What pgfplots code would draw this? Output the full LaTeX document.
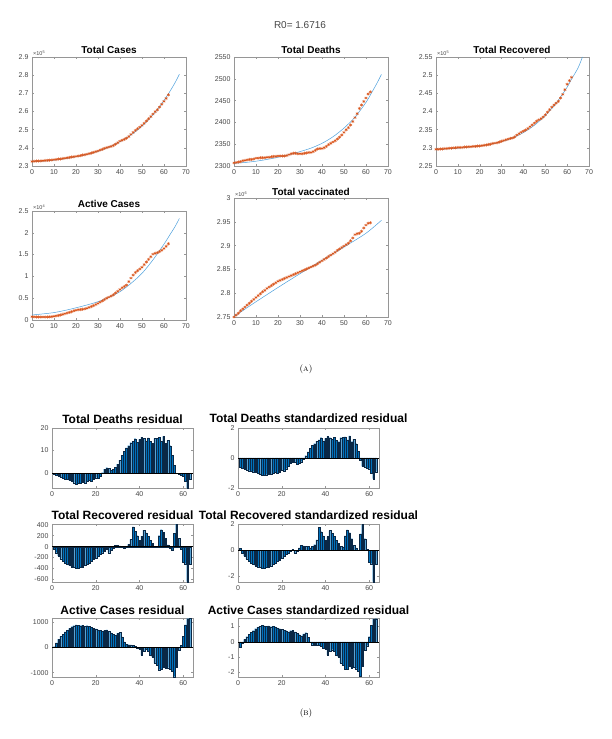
\documentclass[border=0pt]{standalone}
\usepackage{fontspec}
\newfontfamily\arial{Liberation Sans}
\usepackage{pgfplots}
\pgfplotsset{compat=1.18}
\definecolor{mblue}{RGB}{0,114,189}
\definecolor{mnavy}{RGB}{10,40,70}
\definecolor{morange}{RGB}{217,83,25}
\definecolor{mline}{RGB}{77,160,220}
\definecolor{axgray}{RGB}{150,150,150}
\definecolor{tkgray}{RGB}{70,70,70}
\pgfplotsset{
  base/.style={scale only axis, anchor=south west, clip=false,
    axis line style={axgray, line width=0.4pt},
    tick style={axgray, line width=0.4pt},
    major tick length=2pt, tick align=inside,
    ticklabel style={font=\arial\fontsize{7}{8}\selectfont, text=tkgray},
    /pgf/number format/assume math mode=true,
    /pgf/number format/1000 sep={},
    /pgf/number format/fixed,
    scaled ticks=false},
  top/.style={base, width=154pt, height=109pt, xmin=0, xmax=70, xtick={0,10,20,30,40,50,60,70}},
  res/.style={base, width=141pt, xmin=0, xmax=64.5, xtick={0,20,40,60}},
  fitline/.style={mline, line width=0.5pt, no marks, smooth},
  dat/.style={morange, only marks, mark=asterisk, mark size=1.6pt, line width=0.45pt},
  bars/.style={ybar, bar width=0.8, fill=mblue, draw=mnavy, line width=0.1pt},
}
\newcommand{\tfont}{\arial\bfseries\fontsize{10}{12}\selectfont}
\newcommand{\bfont}{\arial\bfseries\fontsize{12}{14}\selectfont}
\newcommand{\expo}[1]{\node[anchor=south west, inner sep=1pt, font=\arial\fontsize{5.5}{6}\selectfont, text=tkgray] at (rel axis cs:0,1) {×10\textsuperscript{#1}};}
\begin{document}
\begin{tikzpicture}
\path[use as bounding box] (0,0) rectangle (612pt,739pt);
\node[font=\arial\fontsize{10}{12}\selectfont, text=tkgray] at (300pt,714pt) {R0= 1.6716};
% ---------- Total Cases
\begin{axis}[top, at={(32pt,573pt)}, ymin=2.3, ymax=2.9, ytick={2.3,2.4,2.5,2.6,2.7,2.8,2.9}]
\addplot[dat] coordinates {(0,2.325)(1,2.326)(2,2.327)(3,2.327)(4,2.328)(5,2.329)(6,2.330)(7,2.331)(8,2.332)(9,2.333)(10,2.335)(11,2.336)(12,2.338)(13,2.339)(14,2.341)(15,2.343)(16,2.345)(17,2.347)(18,2.349)(19,2.351)(20,2.353)(21,2.355)(22,2.357)(23,2.360)(24,2.362)(25,2.365)(26,2.368)(27,2.371)(28,2.375)(29,2.379)(30,2.383)(31,2.388)(32,2.392)(33,2.397)(34,2.401)(35,2.405)(36,2.408)(37,2.413)(38,2.420)(39,2.428)(40,2.437)(41,2.442)(42,2.447)(43,2.453)(44,2.462)(45,2.474)(46,2.485)(47,2.496)(48,2.505)(49,2.514)(50,2.524)(51,2.535)(52,2.548)(53,2.560)(54,2.572)(55,2.586)(56,2.599)(57,2.610)(58,2.624)(59,2.640)(60,2.656)(61,2.672)(62,2.692)};
\addplot[fitline] coordinates {(0,2.324)(2.5,2.325)(5,2.327)(7.5,2.329)(10,2.332)(12.5,2.336)(15,2.340)(17.5,2.345)(20,2.351)(22.5,2.357)(25,2.364)(27.5,2.372)(30,2.381)(32.5,2.392)(35,2.404)(37.5,2.418)(40,2.433)(42.5,2.451)(45,2.471)(47.5,2.494)(50,2.519)(52.5,2.549)(55,2.582)(57.5,2.619)(60,2.661)(62.5,2.707)(65,2.758)(67,2.805)};
\expo{5}
\end{axis}
\node[font=\tfont] at (109pt,689pt) {Total Cases};
% ---------- Total Deaths
\begin{axis}[top, at={(234pt,573pt)}, ymin=2300, ymax=2550, ytick={2300,2350,2400,2450,2500,2550}]
\addplot[dat] coordinates {(0,2307)(1,2308)(2,2309)(3,2310)(4,2312)(5,2313)(6,2314)(7,2315)(8,2315)(9,2316)(10,2318)(11,2318)(12,2319)(13,2319)(14,2319)(15,2320)(16,2320)(17,2321)(18,2322)(19,2322)(20,2323)(21,2323)(22,2323)(23,2323)(24,2324)(25,2326)(26,2328)(27,2329)(28,2329)(29,2328)(30,2328)(31,2328)(32,2329)(33,2330)(34,2331)(35,2331)(36,2333)(37,2336)(38,2339)(39,2340)(40,2340)(41,2342)(42,2345)(43,2349)(44,2352)(45,2355)(46,2358)(47,2362)(48,2366)(49,2371)(50,2377)(51,2383)(52,2388)(53,2394)(54,2402)(55,2411)(56,2420)(57,2432)(58,2440)(59,2448)(60,2456)(61,2465)(62,2470)};
\addplot[fitline] coordinates {(0,2306)(5,2308)(10,2311)(15,2315)(20,2320)(25,2326)(30,2333)(35,2341)(40,2352)(45,2367)(50,2387)(55,2412)(60,2446)(63,2472)(65,2490)(67,2510)};
\end{axis}
\node[font=\tfont] at (311pt,689pt) {Total Deaths};
% ---------- Total Recovered
\begin{axis}[top, width=153pt, at={(436pt,573pt)}, ymin=2.25, ymax=2.55, ytick={2.25,2.3,2.35,2.4,2.45,2.5,2.55}]
\addplot[dat] coordinates {(0,2.296)(1,2.296)(2,2.297)(3,2.297)(4,2.298)(5,2.298)(6,2.299)(7,2.299)(8,2.300)(9,2.300)(10,2.301)(11,2.301)(12,2.301)(13,2.302)(14,2.302)(15,2.303)(16,2.303)(17,2.304)(18,2.304)(19,2.305)(20,2.305)(21,2.306)(22,2.307)(23,2.308)(24,2.309)(25,2.310)(26,2.312)(27,2.313)(28,2.314)(29,2.316)(30,2.318)(31,2.320)(32,2.322)(33,2.324)(34,2.326)(35,2.327)(36,2.330)(37,2.335)(38,2.339)(39,2.343)(40,2.346)(41,2.349)(42,2.353)(43,2.358)(44,2.363)(45,2.368)(46,2.373)(47,2.377)(48,2.380)(49,2.385)(50,2.391)(51,2.398)(52,2.405)(53,2.412)(54,2.418)(55,2.423)(56,2.428)(57,2.437)(58,2.447)(59,2.460)(60,2.475)(61,2.485)(62,2.494)};
\addplot[fitline] coordinates {(0,2.296)(5,2.297)(10,2.299)(15,2.302)(20,2.305)(25,2.310)(30,2.317)(35,2.327)(40,2.342)(45,2.362)(50,2.389)(55,2.423)(60,2.467)(62,2.489)(65,2.52)(67,2.55)};
\expo{5}
\end{axis}
\node[font=\tfont] at (512pt,689pt) {Total Recovered};
% ---------- Active Cases
\begin{axis}[top, at={(32pt,419pt)}, ymin=0, ymax=2.5, ytick={0,0.5,1,1.5,2,2.5}]
\addplot[dat] coordinates {(0,0.075)(1,0.072)(2,0.070)(3,0.068)(4,0.068)(5,0.068)(6,0.069)(7,0.070)(8,0.072)(9,0.076)(10,0.085)(11,0.095)(12,0.105)(13,0.115)(14,0.13)(15,0.145)(16,0.16)(17,0.175)(18,0.19)(19,0.21)(20,0.225)(21,0.235)(22,0.24)(23,0.245)(24,0.255)(25,0.27)(26,0.29)(27,0.31)(28,0.33)(29,0.355)(30,0.38)(31,0.41)(32,0.44)(33,0.47)(34,0.50)(35,0.525)(36,0.55)(37,0.58)(38,0.62)(39,0.66)(40,0.70)(41,0.74)(42,0.77)(43,0.80)(44,0.88)(45,0.96)(46,1.03)(47,1.09)(48,1.13)(49,1.17)(50,1.21)(51,1.27)(52,1.33)(53,1.39)(54,1.45)(55,1.51)(56,1.53)(57,1.545)(58,1.57)(59,1.60)(60,1.64)(61,1.69)(62,1.75)};
\addplot[fitline] coordinates {(0,0.115)(5,0.14)(10,0.17)(15,0.22)(20,0.28)(25,0.345)(30,0.42)(35,0.52)(40,0.65)(45,0.84)(50,1.07)(55,1.38)(60,1.74)(63,1.98)(65,2.14)(67,2.33)};
\expo{4}
\end{axis}
\node[font=\tfont] at (109pt,535pt) {Active Cases};
% ---------- Total vaccinated
\begin{axis}[top, height=119pt, at={(234pt,422pt)}, ymin=2.75, ymax=3, ytick={2.75,2.8,2.85,2.9,2.95,3}]
\addplot[dat] coordinates {(0,2.750)(1,2.754)(2,2.758)(3,2.763)(4,2.767)(5,2.771)(6,2.775)(7,2.779)(8,2.783)(9,2.787)(10,2.791)(11,2.795)(12,2.799)(13,2.803)(14,2.806)(15,2.810)(16,2.813)(17,2.816)(18,2.819)(19,2.822)(20,2.825)(21,2.827)(22,2.829)(23,2.831)(24,2.833)(25,2.835)(26,2.837)(27,2.839)(28,2.841)(29,2.843)(30,2.845)(31,2.847)(32,2.849)(33,2.851)(34,2.853)(35,2.855)(36,2.857)(37,2.859)(38,2.862)(39,2.865)(40,2.868)(41,2.871)(42,2.874)(43,2.877)(44,2.880)(45,2.883)(46,2.886)(47,2.890)(48,2.893)(49,2.896)(50,2.899)(51,2.902)(52,2.905)(53,2.910)(54,2.916)(55,2.923)(56,2.925)(57,2.926)(58,2.930)(59,2.937)(60,2.943)(61,2.947)(62,2.948)};
\addplot[fitline] coordinates {(0,2.751)(10,2.782)(20,2.812)(30,2.841)(40,2.869)(50,2.897)(60,2.926)(67,2.953)};
\expo{6}
\end{axis}
\node[font=\tfont] at (311pt,547pt) {Total vaccinated};
\node[font=\fontsize{9}{11}\selectfont] at (306pt,370pt) {(\textsc{a})};
% ================= residuals
% Deaths residual
\begin{axis}[res, height=60pt, at={(52pt,251pt)}, ymin=-6.6, ymax=20, ytick={0,10,20}]
\addplot[bars] coordinates {(1,-0.3)(2,-0.8)(3,-1.3)(4,-1.8)(5,-2.3)(6,-2.6)(7,-2.8)(8,-3.2)(9,-3.6)(10,-4.2)(11,-4.8)(12,-4.6)(13,-4.4)(14,-4.0)(15,-4.3)(16,-3.6)(17,-3.2)(18,-3.4)(19,-2.8)(20,-2.0)(21,-2.2)(22,-1.2)(23,0.2)(24,1.8)(25,2.4)(26,2.1)(27,1.3)(28,1.8)(29,2.5)(30,4.0)(31,5.8)(32,7.8)(33,9.6)(34,11.2)(35,12.2)(36,13.5)(37,14.2)(38,15.3)(39,13.6)(40,15.0)(41,16.0)(42,15.4)(43,14.3)(44,15.6)(45,14.0)(46,13.2)(47,15.4)(48,15.5)(49,15.8)(50,14.1)(51,16.3)(52,13.2)(53,14.5)(54,12.2)(55,8.0)(56,3.5)(57,0.0)(58,-0.3)(59,-0.8)(60,-1.2)(61,-3.6)(62,-6.5)(63,-2.8)};
\draw[black, line width=0.3pt] (axis cs:0,0) -- (axis cs:64.5,0);
\end{axis}
\node[font=\bfont] at (122.5pt,320pt) {Total Deaths residual};
% Deaths standardized
\begin{axis}[res, height=60pt, at={(238pt,251pt)}, ymin=-2, ymax=2, ytick={-2,0,2}]
\addplot[bars] coordinates {(1,-0.60)(2,-0.66)(3,-0.73)(4,-0.79)(5,-0.85)(6,-0.89)(7,-0.91)(8,-0.96)(9,-1.01)(10,-1.09)(11,-1.16)(12,-1.14)(13,-1.11)(14,-1.06)(15,-1.10)(16,-1.01)(17,-0.96)(18,-0.99)(19,-0.91)(20,-0.81)(21,-0.84)(22,-0.71)(23,-0.54)(24,-0.34)(25,-0.26)(26,-0.30)(27,-0.40)(28,-0.34)(29,-0.25)(30,-0.06)(31,0.16)(32,0.41)(33,0.64)(34,0.84)(35,0.96)(36,1.13)(37,1.21)(38,1.35)(39,1.14)(40,1.31)(41,1.44)(42,1.36)(43,1.23)(44,1.39)(45,1.19)(46,1.09)(47,1.36)(48,1.38)(49,1.41)(50,1.20)(51,1.48)(52,1.09)(53,1.25)(54,0.96)(55,0.44)(56,-0.13)(57,-0.56)(58,-0.60)(59,-0.66)(60,-0.71)(61,-1.01)(62,-1.38)(63,-0.91)};
\draw[black, line width=0.3pt] (axis cs:0,0) -- (axis cs:64.5,0);
\end{axis}
\node[font=\bfont] at (308.5pt,321pt) {Total Deaths standardized residual};
% Recovered residual
\begin{axis}[res, height=58pt, at={(52pt,157pt)}, ymin=-645, ymax=412, ytick={-600,-400,-200,0,200,400}]
\addplot[bars] coordinates {(1,-40)(2,-110)(3,-170)(4,-220)(5,-260)(6,-295)(7,-325)(8,-345)(9,-365)(10,-380)(11,-388)(12,-390)(13,-380)(14,-365)(15,-345)(16,-320)(17,-295)(18,-265)(19,-235)(20,-205)(21,-170)(22,-140)(23,-110)(24,-80)(25,-50)(26,-110)(27,-70)(28,-20)(29,25)(30,20)(31,15)(32,5)(33,-20)(34,10)(35,40)(36,130)(37,360)(38,280)(39,200)(40,120)(41,190)(42,300)(43,250)(44,190)(45,120)(46,60)(47,10)(48,0)(49,200)(50,310)(51,260)(52,150)(53,30)(54,-20)(55,-60)(56,240)(57,410)(58,150)(59,-40)(60,-280)(61,-310)(62,-640)(63,-320)};
\draw[black, line width=0.3pt] (axis cs:0,0) -- (axis cs:64.5,0);
\end{axis}
\node[font=\bfont] at (122.5pt,224pt) {Total Recovered residual};
% Recovered standardized
\begin{axis}[res, height=58pt, at={(238pt,157pt)}, ymin=-2.45, ymax=2.0, ytick={-2,0,2}]
\addplot[bars] coordinates {(1,0.15)(2,-0.21)(3,-0.46)(4,-0.67)(5,-0.83)(6,-0.98)(7,-1.10)(8,-1.19)(9,-1.27)(10,-1.33)(11,-1.37)(12,-1.38)(13,-1.33)(14,-1.27)(15,-1.19)(16,-1.08)(17,-0.98)(18,-0.85)(19,-0.73)(20,-0.60)(21,-0.46)(22,-0.33)(23,-0.21)(24,-0.08)(25,0.04)(26,-0.21)(27,-0.04)(28,0.17)(29,0.35)(30,0.33)(31,0.31)(32,0.27)(33,0.17)(34,0.29)(35,0.42)(36,0.79)(37,1.75)(38,1.42)(39,1.08)(40,0.75)(41,1.04)(42,1.50)(43,1.29)(44,1.04)(45,0.75)(46,0.50)(47,0.29)(48,0.25)(49,1.08)(50,1.54)(51,1.33)(52,0.88)(53,0.38)(54,0.17)(55,0.00)(56,1.25)(57,1.96)(58,0.88)(59,0.08)(60,-0.92)(61,-1.04)(62,-2.42)(63,-1.08)};
\draw[black, line width=0.3pt] (axis cs:0,0) -- (axis cs:64.5,0);
\end{axis}
\node[font=\bfont] at (308.5pt,224pt) {Total Recovered standardized residual};
% Active residual
\begin{axis}[res, height=59pt, at={(52pt,62pt)}, ymin=-1175, ymax=1175, ytick={-1000,0,1000}]
\addplot[bars] coordinates {(1,30)(2,180)(3,330)(4,440)(5,530)(6,620)(7,690)(8,760)(9,830)(10,870)(11,900)(12,880)(13,870)(14,880)(15,850)(16,870)(17,840)(18,800)(19,770)(20,740)(21,700)(22,680)(23,640)(24,680)(25,700)(26,640)(27,580)(28,520)(29,480)(30,560)(31,600)(32,420)(33,220)(34,120)(35,110)(36,100)(37,90)(38,40)(39,-20)(40,-60)(41,-300)(42,-150)(43,-80)(44,-160)(45,-320)(46,-380)(47,-620)(48,-700)(49,-880)(50,-870)(51,-760)(52,-830)(53,-800)(54,-860)(55,-950)(56,-1160)(57,-760)(58,-120)(59,80)(60,440)(61,900)(62,1150)(63,1170)};
\draw[black, line width=0.3pt] (axis cs:0,0) -- (axis cs:64.5,0);
\end{axis}
\node[font=\bfont] at (122.5pt,129pt) {Active Cases residual};
% Active standardized
\begin{axis}[res, height=59pt, at={(238pt,62pt)}, ymin=-2.3, ymax=1.55, ytick={-2,-1,0,1}]
\addplot[bars] coordinates {(1,-0.33)(2,-0.09)(3,0.15)(4,0.33)(5,0.48)(6,0.62)(7,0.73)(8,0.85)(9,0.96)(10,1.02)(11,1.07)(12,1.04)(13,1.02)(14,1.04)(15,0.99)(16,1.02)(17,0.97)(18,0.91)(19,0.86)(20,0.81)(21,0.75)(22,0.72)(23,0.65)(24,0.72)(25,0.75)(26,0.65)(27,0.56)(28,0.46)(29,0.39)(30,0.52)(31,0.59)(32,0.30)(33,-0.02)(34,-0.19)(35,-0.20)(36,-0.22)(37,-0.23)(38,-0.31)(39,-0.41)(40,-0.48)(41,-0.86)(42,-0.62)(43,-0.51)(44,-0.63)(45,-0.89)(46,-0.99)(47,-1.38)(48,-1.51)(49,-1.80)(50,-1.78)(51,-1.60)(52,-1.71)(53,-1.67)(54,-1.76)(55,-1.91)(56,-2.25)(57,-1.60)(58,-0.57)(59,-0.25)(60,0.33)(61,1.07)(62,1.47)(63,1.51)};
\draw[black, line width=0.3pt] (axis cs:0,0) -- (axis cs:64.5,0);
\end{axis}
\node[font=\bfont] at (308.5pt,129pt) {Active Cases standardized residual};
\node[font=\fontsize{9}{11}\selectfont] at (306pt,26pt) {(\textsc{b})};
\end{tikzpicture}
\end{document}
